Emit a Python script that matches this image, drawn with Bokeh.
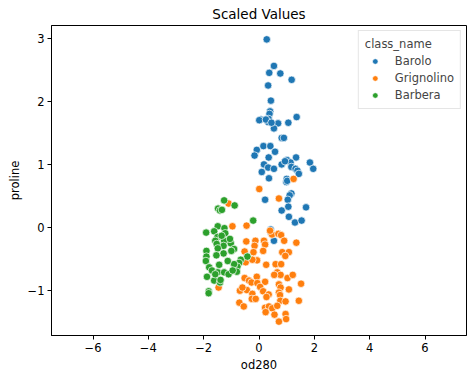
from bokeh.plotting import figure
from bokeh.models import ColumnDataSource, FixedTicker, CustomJSTickFormatter, Range1d
from bokeh.embed import file_html
from bokeh.resources import INLINE

class_names = ["Barolo", "Grignolino", "Barbera"]
colors = ["#1f77b4", "#ff7f0e", "#2ca02c"]

barolo_od280 = [0.28, 0.54, 0.37, 0.77, 1.18, 0.33, 0.43, 0.40, 0.38, 0.07, 0.01, 0.35, 0.33, 1.36,
                1.06, 0.69, 0.54, 0.82, 0.90, -0.08, 0.16, 0.41, -0.16, 0.58, 0.35, 1.34, 1.01, 1.14,
                0.82, 0.18, 1.84, 1.96, 0.33, 0.54, 1.17, 1.32, 1.39, 1.44, 0.10, 1.00, 0.99, 0.36,
                1.17, 1.11, 0.22, 1.04, 1.06, 1.70, 0.82, 1.08, 1.30, 1.54, 0.42, 0.54, 0.25, 0.45,
                0.94, 1.02, 0.42]
barolo_proline = [2.98, 2.56, 2.45, 2.44, 2.34, 2.25, 2.01, 1.84, 1.80, 1.71, 1.70, 1.72, 1.67, 1.75,
                  1.66, 1.65, 1.57, 1.42, 1.42, 1.23, 1.29, 1.29, 1.14, 1.20, 1.11, 1.11, 1.07, 1.03,
                  1.00, 1.00, 1.03, 0.93, 0.95, 0.93, 0.96, 0.93, 0.90, 0.85, 0.88, 0.77, 0.72, 0.78,
                  0.54, 0.51, 0.44, 0.44, 0.33, 0.32, 0.27, 0.17, 0.08, 0.11, -0.03, -0.21, 1.71, 1.66,
                  1.05, 0.74, -0.08]

grignolino_od280 = [0.01, 1.25, 0.72, -0.45, -1.10, -0.96, 0.47, 0.70, 0.80, 0.18, 0.22, 0.91, 1.35,
                    -0.46, -0.13, -0.16, 0.15, -0.20, -0.52, 0.84, 1.08, -0.07, 0.26, 0.60, 0.80,
                    -0.48, -0.24, 0.66, 0.78, 1.03, 1.22, 1.52, -0.52, -0.36, -0.08, -0.27, 0.22,
                    -0.06, -1.46, -0.69, -0.44, -0.24, 0.04, 0.15, 0.35, 0.72, 0.78, 0.72, 1.08,
                    -0.26, -0.12, 0.27, 0.76, 0.77, 0.96, 1.44, -0.71, -0.55, 0.22, 0.36, 0.48, 0.66,
                    0.24, 0.56, 0.96, 0.98, 0.72, 0.40, 0.95, -0.60, 0.55]
grignolino_proline = [0.61, 0.77, 0.46, 0.03, 0.38, 0.02, -0.11, -0.10, -0.12, -0.21, -0.27, -0.21,
                      -0.24, -0.22, -0.21, -0.29, -0.37, -0.39, -0.38, -0.39, -0.39, -0.52, -0.59,
                      -0.58, -0.58, -0.55, -0.51, -0.71, -0.75, -0.80, -0.75, -0.89, -0.80, -0.84,
                      -0.78, -0.87, -0.86, -0.88, -0.95, -1.00, -0.99, -1.05, -0.94, -1.01, -1.06,
                      -0.90, -0.95, -1.03, -0.98, -1.13, -1.13, -1.10, -1.07, -1.16, -1.17, -1.16,
                      -1.19, -1.25, -1.27, -1.25, -1.28, -1.24, -1.34, -1.38, -1.37, -1.45, -1.49,
                      -0.05, -0.45, -0.95, -0.75]

barbera_od280 = [-1.26, -1.48, -1.41, -1.34, -0.88, -0.21, -1.49, -1.25, -1.62, -1.91, -1.22, -1.50,
                 -1.58, -1.26, -1.02, -1.53, -1.28, -1.49, -0.90, -1.28, -1.00, -1.90, -1.90, -1.54,
                 -0.42, -0.66, -0.72, -0.78, -0.90, -1.13, -1.92, -1.44, -1.80, -1.70, -1.49, -1.26,
                 -1.10, -0.80, -1.88, -1.62, -1.41, -1.39, -1.82, -1.82, -1.35, -1.05, -0.95, -1.58]
barbera_proline = [0.43, 0.30, 0.27, 0.28, 0.35, 0.11, 0.02, -0.01, -0.06, -0.08, -0.09, -0.15,
                   -0.21, -0.21, -0.25, -0.26, -0.29, -0.33, -0.34, -0.41, -0.37, -0.37, -0.46, -0.44,
                   -0.46, -0.51, -0.56, -0.62, -0.58, -0.53, -0.53, -0.59, -0.63, -0.68, -0.71, -0.71,
                   -0.74, -0.70, -0.78, -0.84, -0.87, -0.83, -1.01, -1.04, -0.13, -0.18, -0.68, -0.74]

x_ticks = [-6, -4, -2, 0, 2, 4, 6]
y_ticks = [-1, 0, 1, 2, 3]

p = figure(width=474, height=380, output_backend="svg", toolbar_location=None,
           x_range=Range1d(-7.5, 7.5), y_range=Range1d(-1.71, 3.2),
           title="Scaled Values",
           min_border_left=51, min_border_right=8, min_border_top=10, min_border_bottom=45)

series = [(barolo_od280, barolo_proline), (grignolino_od280, grignolino_proline),
          (barbera_od280, barbera_proline)]
for name, color, (xs, ys) in zip(class_names, colors, series):
    src = ColumnDataSource(dict(x=xs, y=ys))
    p.scatter("x", "y", source=src, size=7.5, fill_color=color, line_color="white",
              line_width=0.7, legend_label=name)

p.title.align = "center"
p.title.text_font = "DejaVu Sans"
p.title.text_font_size = "13.5px"
p.title.text_font_style = "normal"
p.title.text_color = "black"
p.title.standoff = 7

fmt = CustomJSTickFormatter(code="return (tick < 0 ? '\u2212' : '') + Math.abs(tick).toString();")
for ax, ticks, label in [(p.xaxis[0], x_ticks, "od280"), (p.yaxis[0], y_ticks, "proline")]:
    ax.ticker = FixedTicker(ticks=ticks)
    ax.formatter = fmt
    ax.axis_label = label
    ax.axis_label_text_font = "DejaVu Sans"
    ax.axis_label_text_font_size = "11.5px"
    ax.axis_label_text_font_style = "normal"
    ax.axis_label_text_color = "black"
    ax.major_label_text_font = "DejaVu Sans"
    ax.major_label_text_font_size = "11.5px"
    ax.major_label_text_color = "black"
    ax.major_tick_out = 4
    ax.major_tick_in = 0
    ax.minor_tick_out = 0
    ax.minor_tick_in = 0
    ax.axis_line_color = "black"
    ax.major_tick_line_color = "black"
    ax.axis_label_standoff = 3
    ax.major_label_standoff = 3

p.xgrid.visible = False
p.ygrid.visible = False
p.outline_line_color = "black"
p.outline_line_width = 1

lg = p.legend[0]
lg.location = "top_right"
lg.title = "class_name"
lg.title_text_font = "DejaVu Sans"
lg.title_text_font_size = "11.5px"
lg.title_text_font_style = "normal"
lg.title_standoff = 3
lg.label_text_font = "DejaVu Sans"
lg.label_text_font_size = "11.5px"
lg.glyph_width = 20
lg.glyph_height = 14
lg.label_height = 14
lg.label_standoff = 10
lg.spacing = 3
lg.padding = 6
lg.margin = 5
lg.border_line_color = "#cccccc"
lg.background_fill_alpha = 0.8

open("out.html", "w").write(file_html(p, INLINE))
